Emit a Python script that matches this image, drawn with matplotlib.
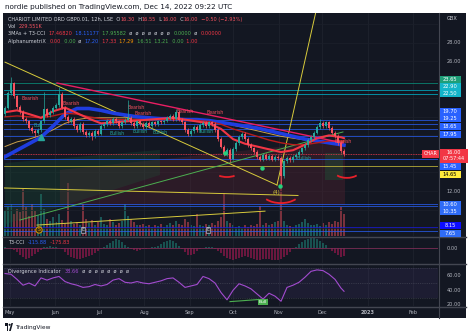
import numpy as np
import matplotlib
matplotlib.use('Agg')
import matplotlib.pyplot as plt
from matplotlib.patches import Arc, Polygon, Rectangle, Circle
from matplotlib.lines import Line2D

W, H = 474, 335
BG = '#131722'
UP = '#26a69a'
DN = '#f7525f'
TXT = '#d1d4dc'
AX = '#b2b5be'
BLUE = '#2962ff'

# 12h candle closes (GBX), Apr 28 -> Dec 14
closes = [21.0, 22.6, 23.6, 22.2, 21.1, 20.5, 19.8, 19.5, 18.8, 18.5,
          18.3, 18.6, 19.5, 20.8, 20.2, 20.5, 21.0, 21.3, 22.5, 21.0,
          20.0, 19.5, 19.8, 19.0, 18.6, 19.2, 18.4, 18.0, 18.3, 17.9,
          18.5, 18.2, 19.0, 19.2, 19.6, 19.3, 19.8, 19.5, 19.0, 19.4,
          19.7, 19.9, 19.3, 19.0, 19.5, 19.2, 18.9, 19.3, 19.0, 19.4,
          19.2, 19.5, 19.4, 19.6, 19.9, 20.1, 19.8, 20.5, 19.7, 19.4,
          18.6, 18.1, 18.5, 18.9, 18.6, 19.1, 19.3, 19.0, 19.4, 19.2,
          18.6, 17.6, 16.8, 16.0, 16.4, 15.5, 16.5, 17.2, 17.8, 18.2,
          17.6, 17.0, 16.6, 16.2, 15.7, 15.4, 15.9, 15.5, 15.8, 15.4,
          15.7, 15.6, 13.6, 15.2, 15.6, 15.3, 15.7, 15.9, 16.2, 16.6,
          17.0, 17.5, 17.8, 18.3, 18.9, 19.3, 19.0, 19.4, 18.8, 18.3,
          17.9, 17.2, 16.3, 16.0]
first_open = 20.3
# wicks that stick out well beyond the body
spike_high = {2: 24.3, 13: 22.7, 18: 23.2, 41: 21.8, 57: 20.9, 105: 19.8}
spike_low = {10: 17.8, 29: 17.5, 75: 15.1, 92: 12.5}

# volume, thousands
volumes = [260, 300, 330, 230, 280, 250, 490, 300, 210, 330,
           260, 220, 440, 280, 180, 160, 200, 150, 230, 170,
           140, 550, 160, 130, 150, 120, 330, 180, 140, 170,
           120, 150, 200, 130, 110, 180, 150, 120, 140, 160,
           330, 210, 180, 150, 120, 110, 130, 100, 120, 90,
           110, 100, 130, 90, 120, 140, 110, 160, 130, 120,
           180, 150, 120, 100, 230, 120, 100, 130, 110, 140,
           120, 160, 200, 450, 160, 140, 120, 90, 100, 80,
           110, 90, 120, 100, 130, 310, 120, 140, 110, 130,
           150, 160, 680, 160, 120, 100, 90, 110, 130, 150,
           180, 140, 120, 110, 130, 100, 140, 120, 150, 130,
           160, 150, 300, 229.551]

t3_cci = [10, 5, -10, -30, -60, -110, -140, -160, -150, -120,
          -90, -60, -30, 10, 20, 30, 20, 10, 0, -20,
          -60, -100, -130, -150, -170, -160, -150, -140, -120, -100,
          -80, -50, -20, 10, 40, 80, 110, 130, 120, 90,
          50, 20, -10, -30, -40, -30, -20, -10, 0, 10,
          20, 30, 60, 90, 110, 120, 100, 70, 30, -20,
          -60, -100, -110, -90, -50, -20, 0, 10, 20, 10,
          -10, -40, -80, -120, -150, -170, -180, -170, -150, -130,
          -120, -130, -150, -170, -180, -175, -170, -165, -170, -175,
          -180, -185, -170, -140, -100, -60, -20, 20, 60, 90,
          120, 140, 150, 145, 130, 110, 80, 40, 0, -40,
          -80, -110, -140, -115.88]

# divergence indicator (RSI), every second candle + last
rsi_idx = list(range(0, 113, 2)) + [113]
rsi = [63, 62, 55, 47, 50, 46, 57, 54, 57, 59, 52, 49, 47, 44, 45, 48, 46, 48,
       54, 56, 51, 50, 52, 50, 49, 51, 53, 56, 57, 51, 44, 46, 48, 59, 56, 50,
       37, 27, 40, 49, 46, 42, 35, 28, 36, 32, 25, 44, 47, 51, 58, 66, 68, 67,
       62, 55, 43, 38.66]

# moving averages, every fourth candle + last
ma_idx = list(range(0, 113, 4)) + [113]
ma_blue = [15.7, 16.4, 17.1, 17.8, 19.0, 20.3, 20.9, 20.9, 20.7, 20.4,
           20.2, 20.0, 19.9, 19.8, 19.8, 19.7, 19.7, 19.6, 19.4, 19.2,
           19.0, 18.8, 18.5, 18.2, 17.9, 17.6, 17.4, 17.2, 17.0, 16.95]
ma_red = [20.5, 20.7, 20.3, 19.9, 20.6, 21.0, 20.4, 19.8, 19.3, 19.4,
          19.5, 19.6, 19.7, 19.8, 19.9, 19.7, 19.5, 19.3, 18.7, 17.6,
          17.1, 16.8, 16.5, 16.2, 16.4, 17.0, 17.7, 18.0, 17.8, 17.7]
ma_dark = [20.0, 20.1, 20.0, 19.9, 20.1, 20.4, 20.3, 20.0, 19.8, 19.7,
           19.7, 19.7, 19.7, 19.7, 19.7, 19.7, 19.6, 19.5, 19.2, 18.7,
           18.3, 17.9, 17.5, 17.2, 17.0, 17.0, 17.2, 17.4, 17.4, 17.4]
ma_gold = [16.8, 17.3, 17.6, 18.0, 18.6, 19.3, 19.7, 19.9, 19.9, 19.9,
           19.9, 19.9, 19.9, 19.8, 19.8, 19.8, 19.7, 19.6, 19.4, 19.1,
           18.8, 18.5, 18.2, 17.9, 17.7, 17.5, 17.4, 17.3, 17.3, 17.3]

# horizontal levels: price, line colour, tag colour, tag text colour, tag position on the scale
levels = [(23.65, '#089981', '#1e9e78', 'white', 24.05),
          (22.90, '#00bcd4', '#13b5c9', 'white', 23.30),
          (22.50, '#00bcd4', '#13b5c9', 'white', 22.55),
          (19.70, BLUE, BLUE, 'white', 20.63),
          (19.25, BLUE, BLUE, 'white', 19.80),
          (18.65, BLUE, BLUE, 'white', 18.95),
          (17.95, BLUE, BLUE, 'white', 18.05),
          (15.45, BLUE, BLUE, 'white', 14.65),
          (14.65, '#d8cb3c', '#ffeb3b', 'black', 13.78),
          (10.60, BLUE, '#2f6cf6', 'white', 10.54),
          (10.35, BLUE, '#2f6cf6', 'white', 9.75),
          (8.15, '#1a1ae6', '#0d0dff', 'white', 8.25),
          (7.65, BLUE, '#2f6cf6', 'white', 7.45)]
last_tag_pos = 15.8

# drawn trend lines (day since May 1, price)
yellow_fall = ([-3.4, 182.9], [25.9, 12.65])
yellow_rise = ([182.9, 210.5], [12.65, 32.0])
yellow_flat = ([-4.1, 197.3], [12.33, 11.52])
yellow_vol = ([18.5, 174.7], [8.33, 9.83])
green_line = ([6.8, 228.1], [8.87, 18.37])
pink_line = ([32.2, 228.1], [23.65, 17.18])

bear_labels = [(8.2, 21.93), (36.3, 21.39), (80.8, 20.96), (85.6, 20.31),
               (114.4, 20.63), (134.9, 20.52), (222.6, 17.3)]
bull_labels = [(68.5, 18.2), (84.2, 18.47), (97.9, 18.26), (128.8, 18.47),
               (196.6, 15.56)]
signal_dots = ([147.3, 172.6, 184.9], [16.1, 14.49, 12.54])
smile_arcs = [(148.6, 14.11, 16.4, 1.2), (230.8, 14.27, 18.5, 1.7),
              (185.6, 12.0, 27.4, 2.6)]

month_days = [0, 31, 61, 92, 123, 153, 184, 214, 245, 276]
month_names = ['May', 'Jun', 'Jul', 'Aug', 'Sep', 'Oct', 'Nov', 'Dec', '2023', 'Feb']

n = len(closes)
days = -3.4 + 2.055 * np.arange(n)
opens = [first_open] + closes[:-1]
rising = [c >= o for o, c in zip(opens, closes)]
highs = [spike_high.get(i, max(o, c) + 0.2) for i, (o, c) in enumerate(zip(opens, closes))]
lows = [spike_low.get(i, min(o, c) - 0.2) for i, (o, c) in enumerate(zip(opens, closes))]
XLIM = (-4.1, 293.2)


def rect(x0, y0, x1, y1):
    return [x0 / W, 1 - y1 / H, (x1 - x0) / W, (y1 - y0) / H]


def bare(ax):
    ax.patch.set_visible(False)
    for s in ax.spines.values():
        s.set_visible(False)
    ax.set_xticks([])
    ax.set_yticks([])
    ax.set_xlim(*XLIM)


def tag(ax, y, s, bg, fg='white', x0=439.5, w=21, h=7.0, size=3.7, ls=1.0):
    # coloured label on the price scale, sized in pixels
    py = ax.transData.transform((0, y))[1]
    fig.add_artist(Rectangle((x0 / W, (py - h / 2) / H), w / W, h / H,
                             transform=fig.transFigure, fc=bg, ec='none', zorder=5))
    fig.text((x0 + w / 2) / W, py / H, s, ha='center', va='center', fontsize=size,
             color=fg, zorder=6, linespacing=ls)


def tick(ax, y, s):
    ax.text(1.02, y, s, transform=ax.get_yaxis_transform(), ha='left', va='center',
            fontsize=3.6, color=AX, clip_on=False)


def legend_line(ax, x, y, parts, size=3.65):
    t = ax.text(x, y, parts[0][0], color=parts[0][1], fontsize=size,
                transform=ax.transAxes, va='center', ha='left')
    for s, c in parts[1:]:
        t = ax.annotate(s, xy=(1, 0), xycoords=t, xytext=(0, 0),
                        textcoords='offset points', color=c, fontsize=size,
                        va='bottom', ha='left')


fig = plt.figure(figsize=(W / 100, H / 100), dpi=100)
fig.patch.set_facecolor('white')
fig.add_artist(Rectangle((3 / W, 1 - 318 / H), 463 / W, 305 / H,
                         transform=fig.transFigure, fc=BG, ec='none', zorder=-10))
fig.text(5 / W, 1 - 7 / H, 'nordie published on TradingView.com, Dec 14, 2022 09:22 UTC',
         fontsize=5.2, color='#131722', va='center')

# ---- volume underneath the price pane
vol = fig.add_axes(rect(4, 13, 438, 236))
bare(vol)
vol.set_ylim(0, 2330)
vcol = [UP if r else DN for r in rising]
vol.bar(days, volumes, width=1.4, color=vcol, alpha=0.45, linewidth=0)

# ---- price pane
ax = fig.add_axes(rect(4, 13, 438, 236))
bare(ax)
ax.set_ylim(7.15, 31.2)
for d in month_days:
    ax.axvline(d, color='#1e222d', lw=0.6, zorder=0)
for p in range(8, 32, 2):
    ax.axhline(p, color='#1b1f2a', lw=0.6, zorder=0)

ax.fill([34.2, 229.5, 229.5, 34.2], [14.27, 17.5, 10.49, 10.49], color='#5b2333', alpha=0.35, lw=0, zorder=1)
ax.fill([-3.4, 102.7, 102.7, -3.4], [15.02, 16.43, 13.73, 8.41], color='#1b5e3a', alpha=0.25, lw=0, zorder=1)
ax.add_patch(Rectangle((215.8, 13.2), 12.3, 2.9, fc='#1b5e3a', alpha=0.35, lw=0, zorder=1))

for p, lc, bg, fg, ty in levels:
    ax.axhline(p, color=lc, lw=0.55, alpha=0.9, zorder=2)
    tag(ax, ty, '%.2f' % p, bg, fg)
ax.axhline(closes[-1], color='#f23645', lw=0.6, ls=(0, (1, 1)), zorder=2)

ax.plot(*yellow_fall, color='#d8cb3c', lw=0.7, zorder=3)
ax.plot(*yellow_rise, color='#d8cb3c', lw=0.7, zorder=3)
ax.plot(*yellow_flat, color='#d8cb3c', lw=0.7, zorder=3)
ax.plot(*yellow_vol, color='#d8cb3c', lw=0.7, zorder=3)
ax.plot(*green_line, color='#4caf50', lw=0.7, zorder=3)

mdays = days[ma_idx]
ax.plot(mdays, ma_gold, color='#c9a04a', lw=0.7, zorder=3)
ax.plot(mdays, ma_blue, color='#1f3de0', lw=2.6, zorder=3)
ax.plot(mdays, ma_dark, color='#b71c1c', lw=1.0, zorder=3)
ax.plot(mdays, ma_red, color='#f23645', lw=1.5, zorder=3)
ax.plot(*pink_line, color='#e91e63', lw=1.0, zorder=3)

for (x, y) in bear_labels:
    ax.text(x, y, 'Bearish', color=DN, fontsize=3.3, va='center', zorder=4)
for (x, y) in bull_labels:
    ax.text(x, y, 'Bullish', color=UP, fontsize=3.3, va='center', zorder=4)
ax.text(15.8, 19.12, 'Bull', color=UP, fontsize=3.3, va='center', zorder=4)

# candles
ccol = [UP if r else DN for r in rising]
ax.vlines(days, lows, highs, colors=ccol, lw=0.5, zorder=5)
body_lo = [min(o, c) for o, c in zip(opens, closes)]
body_h = [max(abs(c - o), 0.06) for o, c in zip(opens, closes)]
ax.bar(days, body_h, bottom=body_lo, width=1.5, color=ccol, lw=0, zorder=5)

ax.plot([days[12]], [17.83], marker='^', color=UP, ms=4, zorder=6)
ax.plot(*signal_dots, 'o', color='#26d07c', ms=2.2, zorder=6)
for cx, cy, w, h in smile_arcs:
    ax.add_patch(Arc((cx, cy), w, h, theta1=185, theta2=355, color='#e8202a', lw=1.3, zorder=6))
ax.text(182.2, 11.8, '(4)', color='#d8cb3c', fontsize=4, ha='center', va='center', zorder=6)

ax.text(19.9, 7.8, 'S', color='#f0a500', fontsize=3.3, ha='center', va='center', zorder=6,
        bbox=dict(boxstyle='circle,pad=0.15', fc='#3a2f10', ec='#f0a500', lw=0.6))
for x in (50.0, 135.6):
    ax.text(x, 7.8, 'E', color=TXT, fontsize=3.3, ha='center', va='center', zorder=6,
            bbox=dict(boxstyle='square,pad=0.2', fc='#2a2e39', ec=AX, lw=0.5))

# last price tags
ax.text(0.998, closes[-1], 'CHAR', transform=ax.get_yaxis_transform(), ha='right', va='center',
        fontsize=3.5, color='white', zorder=7,
        bbox=dict(boxstyle='square,pad=0.3', fc='#f23645', ec='none'))
tag(ax, last_tag_pos, '16.00\n07:57:44', '#f23645', w=28, h=14, size=3.6, ls=1.15)
for p in (28, 26, 12):
    tick(ax, p, '%.2f' % p)
ax.text(1.02, 0.975, 'GBX', transform=ax.transAxes, fontsize=3.6, color=TXT, va='center')

legend_line(ax, 0.01, 0.973, [('CHARIOT LIMITED ORD GBP0.01, 12h, LSE  O', TXT), ('16.30', DN),
                              ('  H', TXT), ('16.55', DN), ('  L', TXT), ('16.00', DN),
                              ('  C', TXT), ('16.00', DN), ('  \u22120.50 (\u22122.93%)', DN)])
legend_line(ax, 0.01, 0.94, [('Vol  ', TXT), ('229.551K', DN)])
legend_line(ax, 0.01, 0.907, [('3MAs + T3-CCI  ', TXT), ('17.46820', '#f23645'),
                              ('  18.11177', BLUE), ('  17.95582', '#4caf50'),
                              ('  \u00f8  \u00f8  \u00f8  \u00f8  \u00f8  \u00f8  \u00f8  ', TXT),
                              ('0.0000', '#4caf50'), ('  \u00f8  ', TXT), ('0.00000', '#f23645')])
legend_line(ax, 0.01, 0.873, [('AlphanumetriX  ', TXT), ('0.00', '#f23645'), ('  0.00', '#4caf50'),
                              ('  \u00f8  ', TXT), ('17.20', BLUE), ('  17.33', '#f23645'),
                              ('  17.29', '#ff9800'), ('  16.51', '#4caf50'), ('  13.21', '#4caf50'),
                              ('  0.00', '#4caf50'), ('  1.00', '#f23645')])

# ---- T3-CCI pane
t3 = fig.add_axes(rect(4, 237, 438, 263))
bare(t3)
t3.set_ylim(-225, 165)
for d in month_days:
    t3.axvline(d, color='#1e222d', lw=0.6, zorder=0)
t3.axhline(0, color='#7b2d55', lw=0.6)
t3col = ['#1e8c7e' if v > 0 else '#c2185b' for v in t3_cci]
t3.bar(days, t3_cci, width=0.9, color=t3col, alpha=0.5, lw=0)
tick(t3, 0, '0.00')
legend_line(t3, 0.01, 0.78, [('T3-CCI  ', TXT), ('-115.88', BLUE), ('  -175.83', '#f23645')])

# ---- divergence indicator pane
dv = fig.add_axes(rect(4, 265, 438, 306))
bare(dv)
dv.set_ylim(18.5, 74.7)
dv.axhspan(30, 70, color='#7e57c2', alpha=0.1, lw=0)
for d in month_days:
    dv.axvline(d, color='#1e222d', lw=0.6, zorder=0)
for lvl in (30, 50, 70):
    dv.axhline(lvl, color='#787b86', lw=0.4, ls=(0, (2, 2)), alpha=0.5)
dv.plot(days[rsi_idx], rsi, color='#a24bcf', lw=0.8)
dv.plot([days[75], days[85]], [24.5, 27.5], color='#4caf50', lw=0.8)
dv.text(days[86], 24.0, 'Bull', fontsize=3.2, color='white', ha='center', va='center',
        bbox=dict(boxstyle='square,pad=0.2', fc='#4caf50', ec='none'))
for p in (60, 40, 20):
    tick(dv, p, '%.2f' % p)
legend_line(dv, 0.01, 0.85, [('Divergence Indicator  ', TXT), ('38.66', '#a24bcf'),
                             ('  \u00f8  \u00f8  \u00f8  \u00f8  \u00f8  \u00f8  \u00f8  \u00f8', TXT)])

# date axis
for d, name in zip(month_days, month_names):
    dv.text(d, -0.16, name, transform=dv.get_xaxis_transform(), ha='center', va='center',
            fontsize=3.6, color=AX, fontweight='bold' if name == '2023' else 'normal')

# pane separators
for yy in (236.5, 264, 306.5):
    fig.add_artist(Line2D([3 / W, 466 / W], [1 - yy / H] * 2, transform=fig.transFigure,
                          color='#434651', lw=1.0))
fig.add_artist(Line2D([438.5 / W] * 2, [1 - 13 / H, 1 - 318 / H], transform=fig.transFigure,
                      color='#434651', lw=0.8))

# TradingView mark
logo = fig.add_axes(rect(5, 323, 13, 331))
logo.set_xlim(0, 1)
logo.set_ylim(0, 1)
logo.axis('off')
logo.add_patch(Polygon([(0, 1), (0.42, 1), (0.42, 0), (0.22, 0), (0.22, 0.62), (0, 0.62)],
                       fc='#131722', ec='none'))
logo.add_patch(Circle((0.58, 0.78), 0.13, fc='#131722', ec='none'))
logo.add_patch(Polygon([(0.5, 0), (0.8, 1), (1.0, 1), (0.72, 0)], fc='#131722', ec='none'))
fig.text(15 / W, 1 - 327 / H, 'TradingView', fontsize=4.2, color='#131722', va='center')

fig.savefig('out.png', dpi=100, facecolor='white')
